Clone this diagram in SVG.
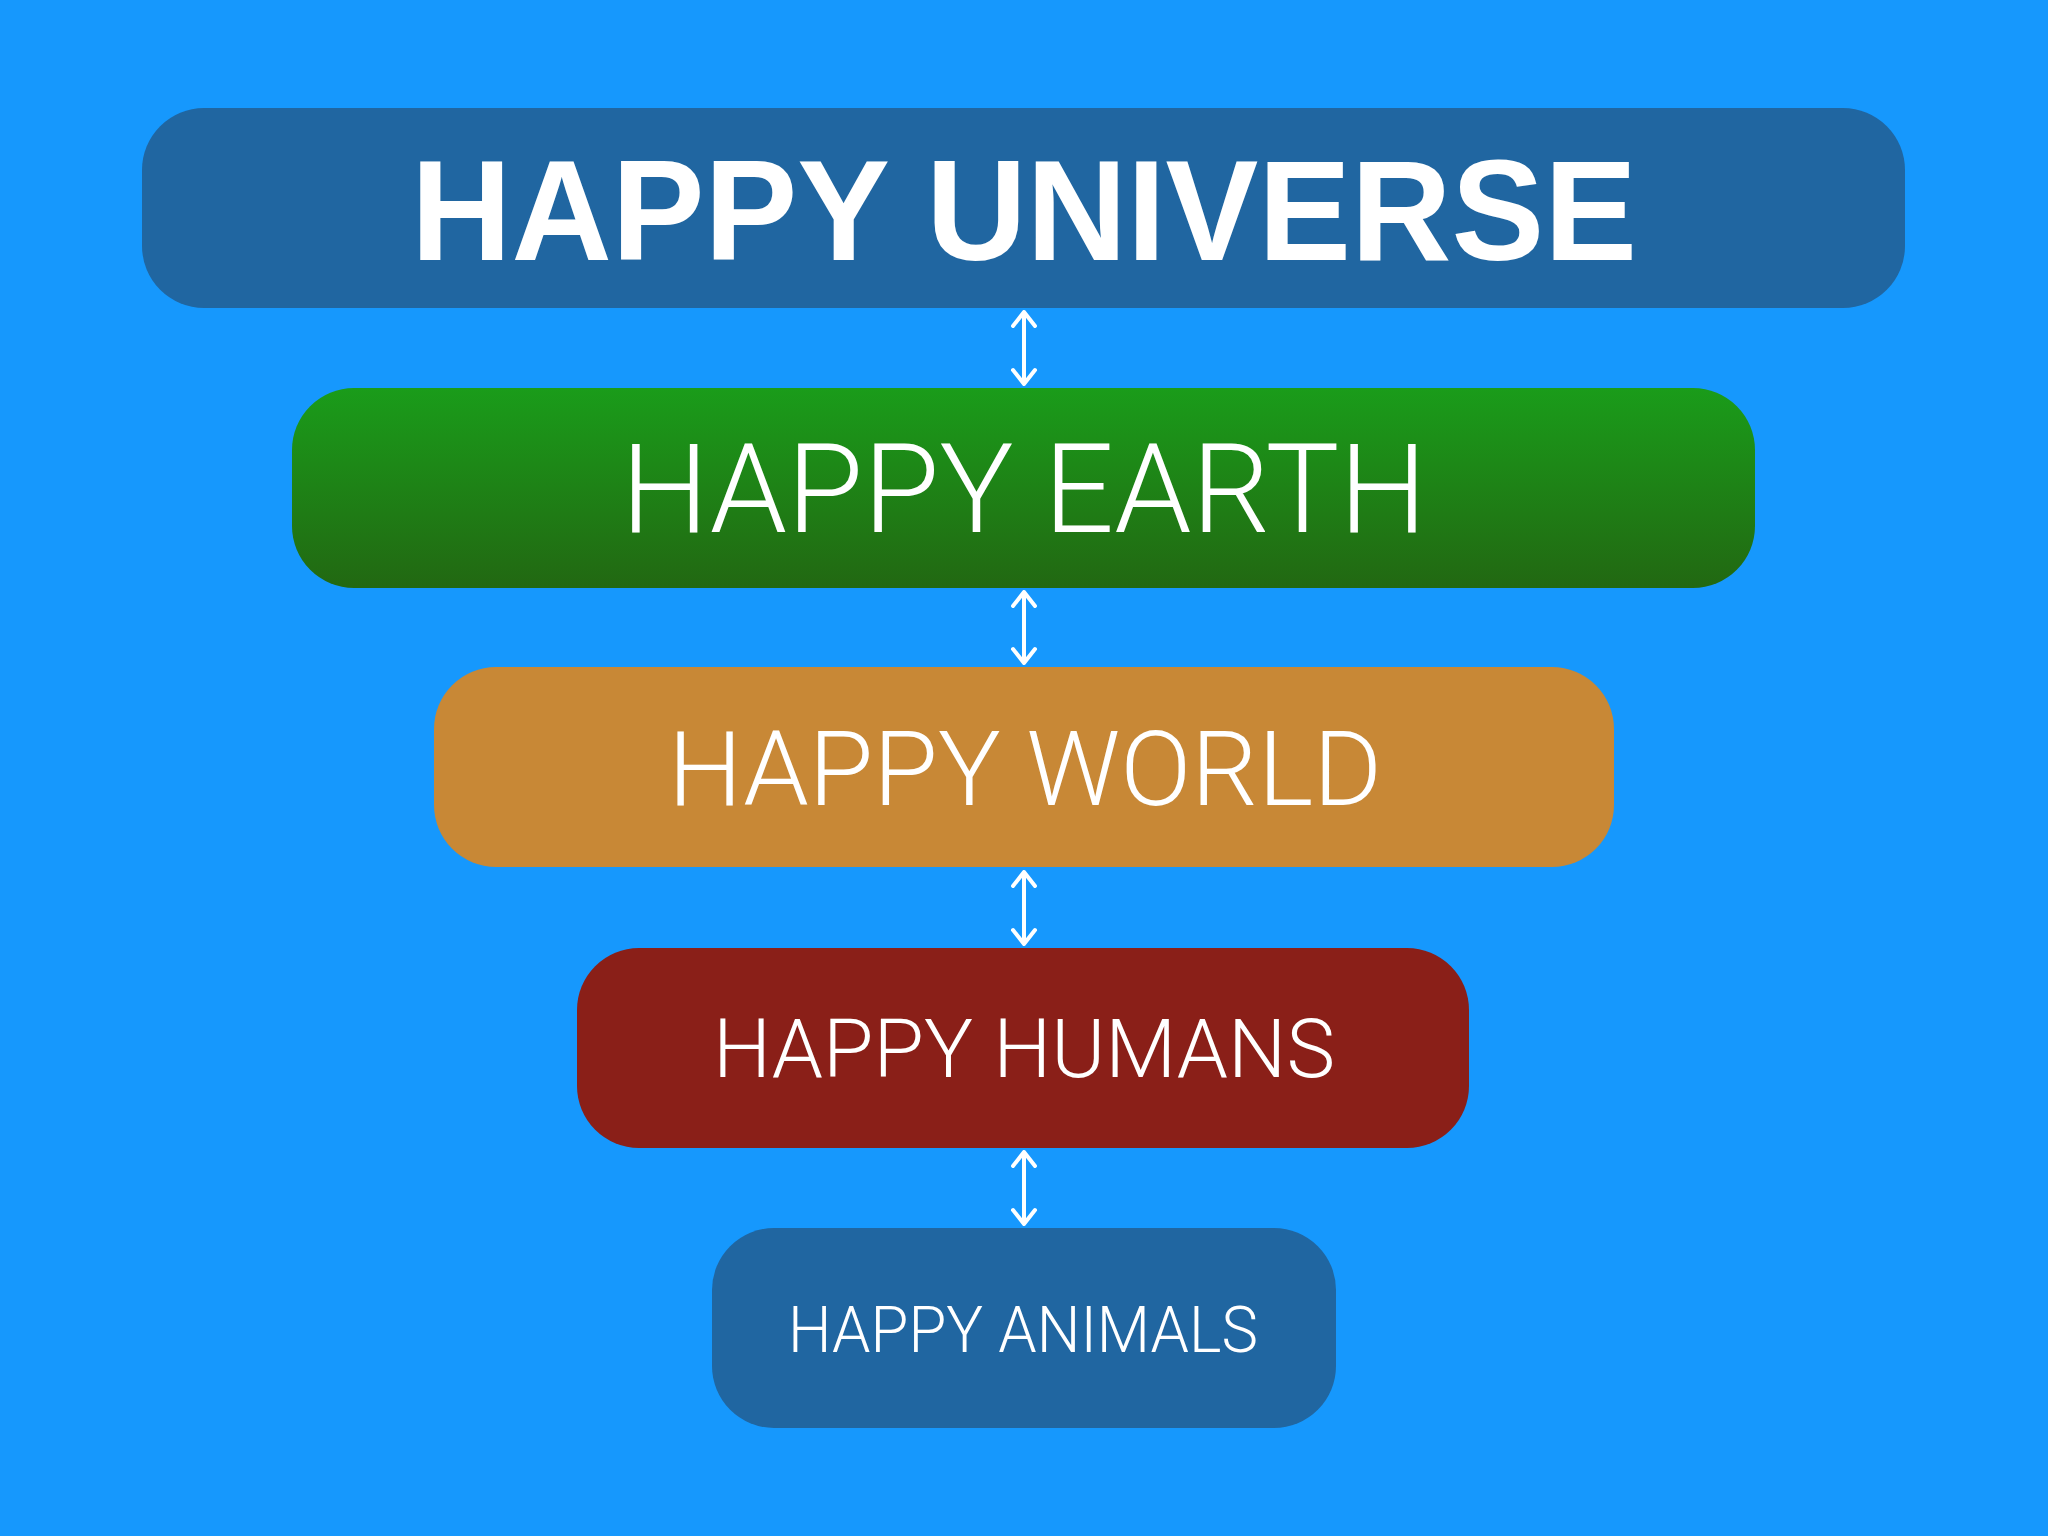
<svg xmlns="http://www.w3.org/2000/svg" width="2048" height="1536" viewBox="0 0 2048 1536">
<style>
.box{stroke:none}
.t{fill:#ffffff;text-anchor:middle}
.bold{font-family:"Liberation Sans",Arial,sans-serif;font-weight:bold}
.light{font-family:Roboto,"Liberation Sans",sans-serif;font-weight:300}
.conn{stroke:#ffffff;stroke-width:4;fill:none;stroke-linecap:round;stroke-linejoin:round}
</style>
<defs>
<linearGradient id="gEarth" x1="0" y1="0" x2="0" y2="1">
<stop offset="0" stop-color="#1a9c1a"/>
<stop offset="1" stop-color="#226812"/>
</linearGradient>
</defs>
<rect x="0" y="0" width="2048" height="1536" fill="#1698fd"/>
<g id="universe">
<rect class="box" x="142" y="108" width="1763" height="200" rx="62" fill="#2066a1"/>
<text class="t bold" x="1024" y="260" font-size="142" textLength="1226" lengthAdjust="spacingAndGlyphs">HAPPY UNIVERSE</text>
</g>
<g id="earth">
<rect class="box" x="292" y="388" width="1463" height="200" rx="62" fill="url(#gEarth)"/>
<text class="t light" x="1024" y="532" font-size="124" textLength="806" lengthAdjust="spacingAndGlyphs">HAPPY EARTH</text>
</g>
<g id="world">
<rect class="box" x="434" y="667" width="1180" height="200" rx="62" fill="#c88836"/>
<text class="t light" x="1025" y="805" font-size="104" textLength="714" lengthAdjust="spacingAndGlyphs">HAPPY WORLD</text>
</g>
<g id="humans">
<rect class="box" x="577" y="948" width="892" height="200" rx="62" fill="#8a1f18"/>
<text class="t light" x="1024" y="1077" font-size="82" textLength="622" lengthAdjust="spacingAndGlyphs">HAPPY HUMANS</text>
</g>
<g id="animals">
<rect class="box" x="712" y="1228" width="624" height="200" rx="62" fill="#2066a1"/>
<text class="t light" x="1023" y="1352" font-size="65" textLength="470" lengthAdjust="spacingAndGlyphs">HAPPY ANIMALS</text>
</g>
<g id="connectors">
<path class="conn" d="M1024 312 V384 M1013 326 L1024 312 L1035 326 M1013 370 L1024 384 L1035 370"/>
<path class="conn" d="M1024 592 V663 M1013 606 L1024 592 L1035 606 M1013 649 L1024 663 L1035 649"/>
<path class="conn" d="M1024 872 V944 M1013 886 L1024 872 L1035 886 M1013 930 L1024 944 L1035 930"/>
<path class="conn" d="M1024 1152 V1224 M1013 1166 L1024 1152 L1035 1166 M1013 1210 L1024 1224 L1035 1210"/>
</g>
</svg>
